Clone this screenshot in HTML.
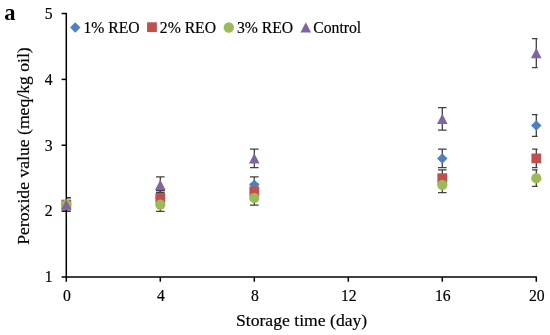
<!DOCTYPE html>
<html><head><meta charset="utf-8"><title>Peroxide value</title>
<style>
html,body{margin:0;padding:0;background:#fff;}
svg{display:block;}
text{font-family:"Liberation Serif","DejaVu Serif",serif;fill:#000;stroke:#000;stroke-width:0.18px;}
</style></head><body>
<svg width="550" height="335" viewBox="0 0 550 335">
<rect width="550" height="335" fill="#fff"/>
<defs><clipPath id="pa"><rect x="66.3" y="0" width="471.3" height="300"/></clipPath></defs>

<g stroke="#404040" stroke-width="1.3" fill="none" clip-path="url(#pa)">
<path d="M66.30 197.63V211.46M62.00 197.63H70.60M62.00 211.46H70.60"/>
<path d="M160.30 190.71V205.20M156.00 190.71H164.60M156.00 205.20H164.60"/>
<path d="M254.30 176.88V192.69M250.00 176.88H258.60M250.00 192.69H258.60"/>
<path d="M442.30 149.21V167.66M438.00 149.21H446.60M438.00 167.66H446.60"/>
<path d="M536.30 114.63V136.37M532.00 114.63H540.60M532.00 136.37H540.60"/>
<path d="M66.30 197.63V211.46M62.00 197.63H70.60M62.00 211.46H70.60"/>
<path d="M160.30 190.71V205.20M156.00 190.71H164.60M156.00 205.20H164.60"/>
<path d="M254.30 183.79V198.94M250.00 183.79H258.60M250.00 198.94H258.60"/>
<path d="M442.30 169.96V186.43M438.00 169.96H446.60M438.00 186.43H446.60"/>
<path d="M536.30 149.21V167.66M532.00 149.21H540.60M532.00 167.66H540.60"/>
<path d="M66.30 197.63V211.46M62.00 197.63H70.60M62.00 211.46H70.60"/>
<path d="M160.30 197.63V211.46M156.00 197.63H164.60M156.00 211.46H164.60"/>
<path d="M254.30 190.71V205.20M250.00 190.71H258.60M250.00 205.20H258.60"/>
<path d="M442.30 176.88V192.69M438.00 176.88H446.60M438.00 192.69H446.60"/>
<path d="M536.30 169.96V186.43M532.00 169.96H540.60M532.00 186.43H540.60"/>
<path d="M66.30 197.63V211.46M62.00 197.63H70.60M62.00 211.46H70.60"/>
<path d="M160.30 176.88V192.69M156.00 176.88H164.60M156.00 192.69H164.60"/>
<path d="M254.30 149.21V167.66M250.00 149.21H258.60M250.00 167.66H258.60"/>
<path d="M442.30 107.71V130.11M438.00 107.71H446.60M438.00 130.11H446.60"/>
<path d="M536.30 38.55V67.53M532.00 38.55H540.60M532.00 67.53H540.60"/>
</g>
<g stroke="#000" stroke-width="1.5" stroke-linejoin="round" stroke-linecap="butt" fill="none">
<path d="M61.6 13.52H66.30V281.7"/>
<path d="M61.6 277.00H536.30V281.7"/>
<path d="M61.6 211.13H66.30"/>
<path d="M61.6 145.26H66.30"/>
<path d="M61.6 79.39H66.30"/>
<path d="M160.30 277.00V281.7"/>
<path d="M254.30 277.00V281.7"/>
<path d="M348.30 277.00V281.7"/>
<path d="M442.30 277.00V281.7"/>
</g>
<g>
<path fill="#4e81bd" d="M66.30 199.34L71.50 204.54L66.30 209.74L61.10 204.54Z"/>
<path fill="#4e81bd" d="M160.30 192.76L165.50 197.96L160.30 203.16L155.10 197.96Z"/>
<path fill="#4e81bd" d="M254.30 179.58L259.50 184.78L254.30 189.98L249.10 184.78Z"/>
<path fill="#4e81bd" d="M442.30 153.23L447.50 158.43L442.30 163.63L437.10 158.43Z"/>
<path fill="#4e81bd" d="M536.30 120.30L541.50 125.50L536.30 130.70L531.10 125.50Z"/>
<rect fill="#c0504d" x="61.40" y="199.64" width="9.80" height="9.80"/>
<rect fill="#c0504d" x="155.40" y="193.06" width="9.80" height="9.80"/>
<rect fill="#c0504d" x="249.40" y="186.47" width="9.80" height="9.80"/>
<rect fill="#c0504d" x="437.40" y="173.29" width="9.80" height="9.80"/>
<rect fill="#c0504d" x="531.40" y="153.53" width="9.80" height="9.80"/>
<circle fill="#9bbb59" cx="66.30" cy="204.54" r="5.15"/>
<circle fill="#9bbb59" cx="160.30" cy="204.54" r="5.15"/>
<circle fill="#9bbb59" cx="254.30" cy="197.96" r="5.15"/>
<circle fill="#9bbb59" cx="442.30" cy="184.78" r="5.15"/>
<circle fill="#9bbb59" cx="536.30" cy="178.19" r="5.15"/>
<path fill="#8064a2" d="M66.30 199.44L71.60 209.64L61.00 209.64Z"/>
<path fill="#8064a2" d="M160.30 179.68L165.60 189.88L155.00 189.88Z"/>
<path fill="#8064a2" d="M254.30 153.33L259.60 163.53L249.00 163.53Z"/>
<path fill="#8064a2" d="M442.30 113.81L447.60 124.01L437.00 124.01Z"/>
<path fill="#8064a2" d="M536.30 47.94L541.60 58.14L531.00 58.14Z"/>
</g>
<g>
<path fill="#4e81bd" d="M75.25 22.35L80.45 27.55L75.25 32.75L70.05 27.55Z"/>
<rect fill="#c0504d" x="147.05" y="22.30" width="9.80" height="9.80"/>
<circle fill="#9bbb59" cx="228.80" cy="27.50" r="5.15"/>
<path fill="#8064a2" d="M305.80 22.20L311.10 32.40L300.50 32.40Z"/>
<text x="83.4" y="32.7" font-size="15.7">1% REO</text>
<text x="159.8" y="32.7" font-size="15.7">2% REO</text>
<text x="236.9" y="32.7" font-size="15.7">3% REO</text>
<text x="313.3" y="32.7" font-size="15.7">Control</text>
</g>
<g font-size="15.7" text-anchor="end">
<text x="52.5" y="282.20">1</text>
<text x="52.5" y="216.03">2</text>
<text x="52.5" y="150.76">3</text>
<text x="52.5" y="85.19">4</text>
<text x="52.5" y="19.12">5</text>
</g>
<g font-size="15.7" text-anchor="middle">
<text x="66.80" y="300.7">0</text>
<text x="160.80" y="300.7">4</text>
<text x="254.80" y="300.7">8</text>
<text x="348.80" y="300.7">12</text>
<text x="442.80" y="300.7">16</text>
<text x="536.80" y="300.7">20</text>
</g>
<text x="301.6" y="326.3" font-size="17.65" text-anchor="middle">Storage time (day)</text>
<text transform="translate(28.8 146.0) rotate(-90)" font-size="17.65" text-anchor="middle">Peroxide value (meq/kg oil)</text>
<text x="4.3" y="20.2" font-size="22.5" font-weight="bold" style="stroke:none">a</text>
</svg></body></html>
